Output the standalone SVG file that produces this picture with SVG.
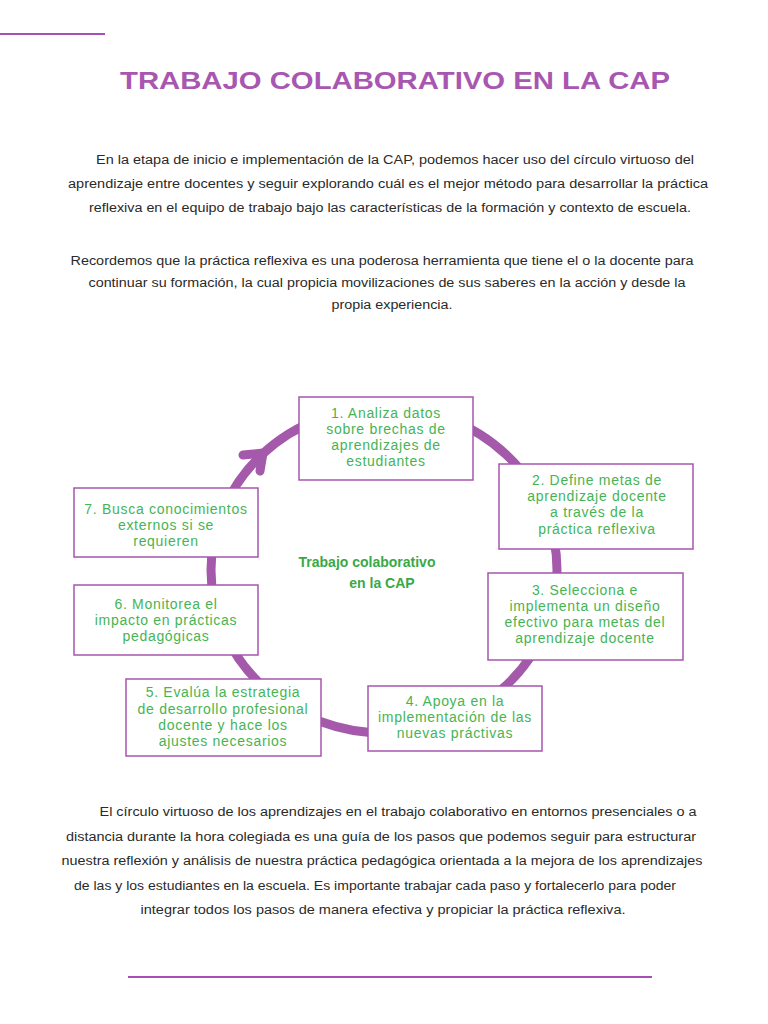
<svg xmlns="http://www.w3.org/2000/svg" width="768" height="1024" viewBox="0 0 768 1024">
<style>
.rule{stroke:#a54fb5;stroke-width:2;fill:none}
.title{font-family:"Liberation Sans",Arial,sans-serif;font-weight:bold;font-size:24px;fill:#a857b1;text-anchor:middle}
.p{font-family:"Liberation Sans",Arial,sans-serif;font-size:12.5px;fill:#2a2a2a;text-anchor:middle}
.box{fill:#ffffff;stroke:#a655ad;stroke-width:1.5}
.t{font-family:"Liberation Sans",Arial,sans-serif;font-size:14px;letter-spacing:0.7px;fill:#46b455;text-anchor:middle}
.c{font-family:"Liberation Sans",Arial,sans-serif;font-size:14px;font-weight:bold;fill:#3aa847;text-anchor:middle}
.ring{fill:none;stroke:#a459ab;stroke-width:9}
.head{fill:none;stroke:#a459ab;stroke-width:9;stroke-linecap:round;stroke-linejoin:round}
</style>
<rect width="768" height="1024" fill="#ffffff"/>
<line class="rule" x1="0" y1="34" x2="105" y2="34"/>
<line class="rule" x1="128" y1="977" x2="652" y2="977"/>
<text class="title" x="395" y="89" textLength="550" lengthAdjust="spacingAndGlyphs">TRABAJO COLABORATIVO EN LA CAP</text>
<g id="intro">
<text class="p" x="395" y="164" textLength="598" lengthAdjust="spacingAndGlyphs">En la etapa de inicio e implementación de la CAP, podemos hacer uso del círculo virtuoso del</text>
<text class="p" x="388" y="188" textLength="640" lengthAdjust="spacingAndGlyphs">aprendizaje entre docentes y seguir explorando cuál es el mejor método para desarrollar la práctica</text>
<text class="p" x="390" y="212" textLength="602" lengthAdjust="spacingAndGlyphs">reflexiva en el equipo de trabajo bajo las características de la formación y contexto de escuela.</text>
<text class="p" x="382" y="265" textLength="623" lengthAdjust="spacingAndGlyphs">Recordemos que la práctica reflexiva es una poderosa herramienta que tiene el o la docente para</text>
<text class="p" x="387" y="287" textLength="597" lengthAdjust="spacingAndGlyphs">continuar su formación, la cual propicia movilizaciones de sus saberes en la acción y desde la</text>
<text class="p" x="392" y="309" textLength="121" lengthAdjust="spacingAndGlyphs">propia experiencia.</text>
</g>
<g id="connectors">
<ellipse class="ring" cx="384" cy="570" rx="173" ry="163"/>
<polyline class="head" points="243,455 263,453 260,471"/>
</g>
<g id="center-label">
<text class="c" x="367" y="567">Trabajo colaborativo</text>
<text class="c" x="382" y="588">en la CAP</text>
</g>
<g id="n1">
<rect class="box" x="299" y="397" width="174" height="83"/>
<text class="t" x="386" y="418">1. Analiza datos</text>
<text class="t" x="386" y="434">sobre brechas de</text>
<text class="t" x="386" y="450">aprendizajes de</text>
<text class="t" x="386" y="466">estudiantes</text>
</g>
<g id="n2">
<rect class="box" x="499" y="464" width="194" height="85"/>
<text class="t" x="597" y="485">2. Define metas de</text>
<text class="t" x="597" y="501">aprendizaje docente</text>
<text class="t" x="597" y="517">a través de la</text>
<text class="t" x="597" y="534">práctica reflexiva</text>
</g>
<g id="n3">
<rect class="box" x="488" y="573" width="195" height="87"/>
<text class="t" x="585" y="595">3. Selecciona e</text>
<text class="t" x="585" y="611">implementa un diseño</text>
<text class="t" x="585" y="627">efectivo para metas del</text>
<text class="t" x="585" y="643">aprendizaje docente</text>
</g>
<g id="n4">
<rect class="box" x="368" y="686" width="174" height="65"/>
<text class="t" x="455" y="706">4. Apoya en la</text>
<text class="t" x="455" y="722">implementación de las</text>
<text class="t" x="455" y="738">nuevas práctivas</text>
</g>
<g id="n5">
<rect class="box" x="126" y="679" width="195" height="77"/>
<text class="t" x="223" y="697">5. Evalúa la estrategia</text>
<text class="t" x="223" y="714">de desarrollo profesional</text>
<text class="t" x="223" y="730">docente y hace los</text>
<text class="t" x="223" y="746">ajustes necesarios</text>
</g>
<g id="n6">
<rect class="box" x="74" y="585" width="184" height="70"/>
<text class="t" x="166" y="609">6. Monitorea el</text>
<text class="t" x="166" y="625">impacto en prácticas</text>
<text class="t" x="166" y="641">pedagógicas</text>
</g>
<g id="n7">
<rect class="box" x="74" y="488" width="184" height="69"/>
<text class="t" x="166" y="514">7. Busca conocimientos</text>
<text class="t" x="166" y="530">externos si se</text>
<text class="t" x="166" y="546">requieren</text>
</g>
<g id="closing">
<text class="p" x="398" y="816" textLength="597" lengthAdjust="spacingAndGlyphs">El círculo virtuoso de los aprendizajes en el trabajo colaborativo en entornos presenciales o a</text>
<text class="p" x="381" y="841" textLength="630" lengthAdjust="spacingAndGlyphs">distancia durante la hora colegiada es una guía de los pasos que podemos seguir para estructurar</text>
<text class="p" x="382" y="865" textLength="641" lengthAdjust="spacingAndGlyphs">nuestra reflexión y análisis de nuestra práctica pedagógica orientada a la mejora de los aprendizajes</text>
<text class="p" x="375" y="890" textLength="602" lengthAdjust="spacingAndGlyphs">de las y los estudiantes en la escuela. Es importante trabajar cada paso y fortalecerlo para poder</text>
<text class="p" x="383" y="914" textLength="485" lengthAdjust="spacingAndGlyphs">integrar todos los pasos de manera efectiva y propiciar la práctica reflexiva.</text>
</g>
</svg>
